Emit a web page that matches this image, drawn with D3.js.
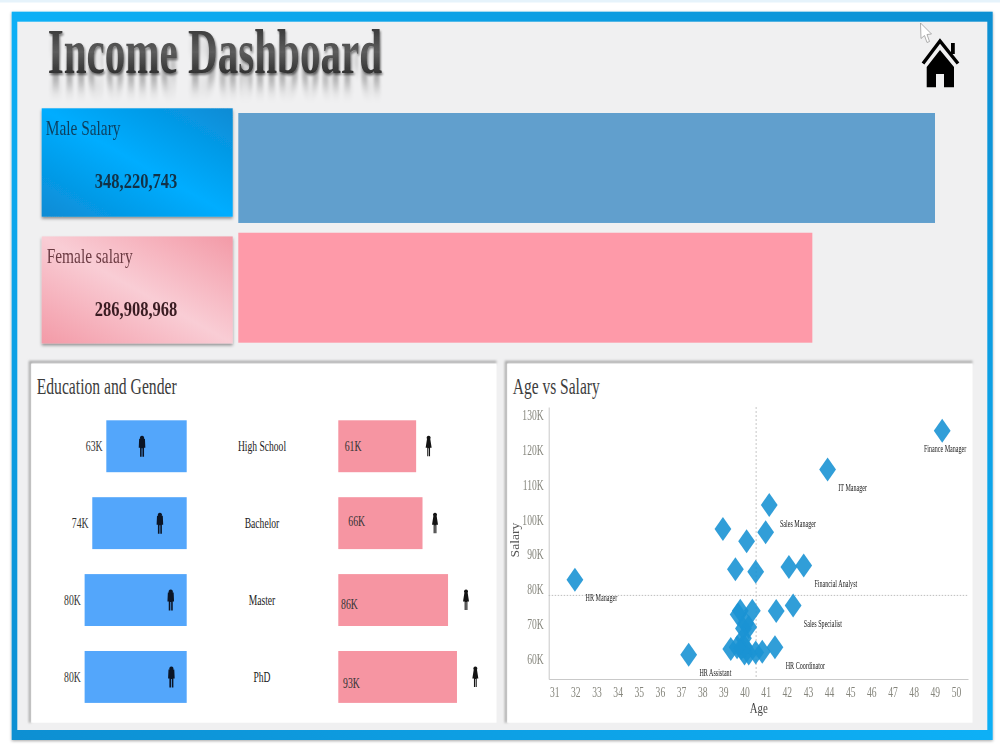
<!DOCTYPE html>
<html>
<head>
<meta charset="utf-8">
<title>Income Dashboard</title>
<script src="https://cdn.jsdelivr.net/npm/d3@7"></script>
<style>
	html, body { margin: 0; padding: 0; background: #fff; }
	svg { display: block; filter: blur(0.35px); }
	text { font-family: "Liberation Serif", serif; }
</style>
</head>
<body>
<div id="chart"></div>
<script>
// totals
const genderNames = ["Male", "Female"],
	genderTotals = [348220743, 286908968],
	cardTitles = ["Male Salary", "Female salary"];

// education and gender (K)
const educationLevels = ["High School", "Bachelor", "Master", "PhD"],
	maleSalaries = [63, 74, 80, 80],
	femaleSalaries = [61, 66, 86, 93],
	// the person icons sit on the same axis as the bars
	maleIconValues = [35, 21, 12.5, 12],
	femaleIconValues = [70.8, 75.8, 100.1, 107.4];

// age vs salary
const pointAges = [49.35, 43.93, 41.17, 41, 38.98, 40.1, 39.57, 40.53, 42.1, 42.8, 31.98, 42.3, 41.5, 40.37, 39.8, 39.7,
		40.2, 39.95, 40.05, 39.95, 39.35, 37.36, 41.44, 40.84, 40.53, 40.2, 40, 39.85, 40, 39.65],
	pointSalaries = [125.5, 114.3, 104.1, 96.3, 97.2, 93.7, 85.6, 84.9, 86.3, 86.7, 82.6, 75.2, 73.6, 73.7, 73.7, 72.6,
		69, 68.6, 70, 65.8, 62.7, 61, 63.2, 61.9, 61.7, 61.4, 61.4, 62.9, 63.4, 63.2],
	pointLabels = ["Finance Manager", "IT Manager", "Sales Manager", "", "", "", "", "", "", "Financial Analyst", "HR Manager",
		"Sales Specialist", "", "", "", "", "", "", "", "", "", "HR Assistant", "HR Coordinator", "", "", "", "", "", "", ""],
	ageTicks = [31, 32, 33, 34, 35, 36, 37, 38, 39, 40, 41, 42, 43, 44, 45, 46, 47, 48, 49, 50],
	salaryTicks = [60, 70, 80, 90, 100, 110, 120, 130],
	meanAge = 40.55,
	meanSalary = 78.1;

const svg = d3.select("#chart").append("svg")
	.attr("width", 1000)
	.attr("height", 750);
const defs = svg.append("defs");

// the original is a stretched screenshot, so the text is narrow and tall
function squeeze(sel, factor) {
	sel.each(function () {
		this.setAttribute("textLength", this.getComputedTextLength() * factor);
		this.setAttribute("lengthAdjust", "spacingAndGlyphs");
	});
	return sel;
}

function addText(parent, x, y, str, size, factor, color, weight, anchor) {
	const t = parent.append("text")
		.attr("x", x)
		.attr("y", y)
		.attr("font-size", size)
		.attr("fill", color)
		.attr("font-weight", weight || "normal")
		.attr("text-anchor", anchor || "start")
		.text(str);
	return squeeze(t, factor);
}

function diagonalGradient(id, edge, middle) {
	const g = defs.append("linearGradient")
		.attr("id", id)
		.attr("x1", 0).attr("y1", 1).attr("x2", 1).attr("y2", 0);
	g.append("stop").attr("offset", "0%").attr("stop-color", edge);
	g.append("stop").attr("offset", "50%").attr("stop-color", middle);
	g.append("stop").attr("offset", "100%").attr("stop-color", edge);
}

function shadowFilter(id, dx, dy, blur, opacity) {
	defs.append("filter")
		.attr("id", id)
		.attr("x", "-10%").attr("y", "-10%").attr("width", "120%").attr("height", "125%")
		.append("feDropShadow")
		.attr("dx", dx).attr("dy", dy)
		.attr("stdDeviation", blur)
		.attr("flood-color", "#000")
		.attr("flood-opacity", opacity);
}

diagonalGradient("frameFill", "#0a8fd2", "#0fb0f6");
diagonalGradient("maleCard", "#0a8bd4", "#00adff");
diagonalGradient("femaleCard", "#f39aa7", "#f9cdd5");
shadowFilter("soft", 0, 2, 1.5, 0.4);
shadowFilter("frameShadow", 0, 1, 1.5, 0.35);
defs.append("filter").attr("id", "panelEdge")
	.append("feGaussianBlur").attr("stdDeviation", 0.8);

function drawFrame() {
	svg.append("rect")
		.attr("width", 1000).attr("height", 2.5)
		.attr("fill", "#e6f3fb");
	svg.append("rect")
		.attr("x", 11.7).attr("y", 11.7)
		.attr("width", 981).attr("height", 728.3)
		.attr("fill", "url(#frameFill)")
		.attr("filter", "url(#frameShadow)");
	svg.append("rect")
		.attr("x", 17.3).attr("y", 21.7)
		.attr("width", 970).attr("height", 708.3)
		.attr("fill", "#f0f0f1");
}

function drawTitle() {
	const grad = defs.append("linearGradient")
		.attr("id", "titleFill")
		.attr("x1", 0).attr("y1", 0).attr("x2", 0).attr("y2", 1);
	grad.append("stop").attr("offset", "15%").attr("stop-color", "#3a3a3a");
	grad.append("stop").attr("offset", "50%").attr("stop-color", "#5c5c5c");
	grad.append("stop").attr("offset", "85%").attr("stop-color", "#2c2c2c");

	// long vertical blur stands in for the reflection under the letters
	const f = defs.append("filter")
		.attr("id", "titleShadow")
		.attr("x", "-5%").attr("y", "-20%").attr("width", "110%").attr("height", "200%");
	f.append("feOffset").attr("in", "SourceAlpha").attr("dy", 14).attr("result", "o1");
	f.append("feGaussianBlur").attr("in", "o1").attr("stdDeviation", "1 8").attr("result", "b1");
	f.append("feComponentTransfer").attr("in", "b1").attr("result", "r1")
		.append("feFuncA").attr("type", "linear").attr("slope", 0.28);
	f.append("feOffset").attr("in", "SourceAlpha").attr("dx", 0.5).attr("dy", 1.5).attr("result", "o2");
	f.append("feGaussianBlur").attr("in", "o2").attr("stdDeviation", 1).attr("result", "b2");
	f.append("feComponentTransfer").attr("in", "b2").attr("result", "s2")
		.append("feFuncA").attr("type", "linear").attr("slope", 0.5);
	const m = f.append("feMerge");
	m.append("feMergeNode").attr("in", "r1");
	m.append("feMergeNode").attr("in", "s2");
	m.append("feMergeNode").attr("in", "SourceGraphic");

	addText(svg, 47.7, 73, "Income Dashboard", 63, 0.652, "url(#titleFill)", "bold")
		.attr("filter", "url(#titleShadow)");
}

function drawHome() {
	const g = svg.append("g");
	// chimney, roof chevron, walls with a door cut out
	g.append("path").attr("fill", "#000").attr("d", "M951,43h3.8v11h-3.8z");
	g.append("path").attr("fill", "none").attr("stroke", "#000").attr("stroke-width", 3.4)
		.attr("stroke-linejoin", "miter")
		.attr("d", "M923,63.5L940,41L958,63.5");
	g.append("path").attr("fill", "#000").attr("fill-rule", "evenodd")
		.attr("d", "M940,50L954,67V87.3H926.7V67Z M936,87.3H944V74H936Z");
	svg.append("path")
		.attr("fill", "#fff").attr("stroke", "#9a9a9a").attr("stroke-width", 0.8)
		.attr("d", "M920.5,23L921,38.5L924.5,35.5L927,42.5L929.5,41.5L927,34.5L931.5,34Z");
}

function drawTotals() {
	const x = d3.scaleLinear().domain([0, genderTotals[0]]).range([0, 696.7]);
	const y = d3.scaleBand().domain(genderNames).range([113, 342.7]).paddingInner(0.0815);
	const formatTotal = d3.format(",");
	const barColors = ["#619fcd", "#fe9aa9"];
	const cardFills = ["url(#maleCard)", "url(#femaleCard)"];
	const titleColors = ["#0d3f5e", "#6b3a42"];
	const numberColors = ["#123247", "#3a1c22"];

	svg.selectAll(".total")
		.data(genderNames)
		.join("rect")
		.attr("class", "total")
		.attr("x", 238.3)
		.attr("y", d => y(d))
		.attr("width", (d, i) => x(genderTotals[i]))
		.attr("height", y.bandwidth())
		.attr("fill", (d, i) => barColors[i]);

	genderNames.forEach((d, i) => {
		const top = y(d) - (i ? -3.7 : 4.7);
		svg.append("rect")
			.attr("x", 41.7).attr("y", top)
			.attr("width", 191).attr("height", i ? 107 : 108.4)
			.attr("fill", cardFills[i])
			.attr("filter", "url(#soft)");
		addText(svg, i ? 46.7 : 45.7, top + 27, cardTitles[i], 22, 0.7, titleColors[i]);
		addText(svg, 136, top + 80, formatTotal(genderTotals[i]), 22, 0.75, numberColors[i], "bold", "middle");
	});
}

function drawPanel(x, title, titleLength) {
	svg.append("path")
		.attr("d", `M${x},722.7V362H${x + 466.5}`)
		.attr("fill", "none")
		.attr("stroke", "#a8a8a8")
		.attr("stroke-width", 2.4)
		.attr("filter", "url(#panelEdge)");
	svg.append("rect")
		.attr("x", x + 1.2).attr("y", 363.6)
		.attr("width", 465.3).attr("height", 359.1)
		.attr("fill", "#fff");
	const t = addText(svg, x + 6.7, 394, title, 23, 1, "#3d3d3d");
	t.attr("textLength", titleLength);
}

const personMale = "M0,-10.5a2.1,2.1 0 1,1 -0.01,0z M-2.9,-7.5H2.9L3.3,1.5H2V10.5H0.4V2H-0.4V10.5H-2V1.5H-3.3Z";
const personFemale = "M0,-10.5a2,2 0 1,1 -0.01,0z M-1.6,-7.5H1.6L3,1.5H1.4V10H0.3V2H-0.3V10H-1.4V1.5H-3Z";

function drawEducation() {
	const panel = svg.append("g");
	const x = d3.scaleLinear().domain([0, 100]).range([0, 127.6]);
	const y = d3.scaleBand().domain(educationLevels).range([420.3, 702.9]).paddingInner(0.325);
	const maleBase = 186.7, femaleBase = 338.3;
	// hand placed in the original, these labels do not line up with the bars
	const femaleLabelX = [344.7, 348.3, 341, 343];
	const femaleLabelNudge = [0, -2, 4, 6];

	panel.selectAll(".male")
		.data(maleSalaries)
		.join("rect")
		.attr("class", "male")
		.attr("x", d => maleBase - x(d))
		.attr("y", (d, i) => y(educationLevels[i]))
		.attr("width", d => x(d))
		.attr("height", y.bandwidth())
		.attr("fill", "#53a6fb");

	panel.selectAll(".female")
		.data(femaleSalaries)
		.join("rect")
		.attr("class", "female")
		.attr("x", femaleBase)
		.attr("y", (d, i) => y(educationLevels[i]))
		.attr("width", d => x(d))
		.attr("height", y.bandwidth())
		.attr("fill", "#f695a2");

	panel.selectAll(".maleIcon")
		.data(maleIconValues)
		.join("path")
		.attr("class", "maleIcon")
		.attr("d", personMale)
		.attr("fill", "#0b1526")
		.attr("transform", (d, i) => `translate(${maleBase - x(d)},${y(educationLevels[i]) + y.bandwidth() / 2})`);

	panel.selectAll(".femaleIcon")
		.data(femaleIconValues)
		.join("path")
		.attr("class", "femaleIcon")
		.attr("d", personFemale)
		.attr("fill", "#141414")
		.attr("transform", (d, i) => `translate(${femaleBase + x(d)},${y(educationLevels[i]) + y.bandwidth() / 2})`);

	educationLevels.forEach((level, i) => {
		const mid = y(level) + y.bandwidth() / 2;
		addText(panel, 262, mid + 5, level, 14.5, 0.66, "#222", "normal", "middle");
		addText(panel, maleBase - x(maleSalaries[i]) - 3.7, mid + 5, maleSalaries[i] + "K", 15, 0.65, "#333", "normal", "end");
		addText(panel, femaleLabelX[i], mid + 5 + femaleLabelNudge[i], femaleSalaries[i] + "K", 15, 0.65, "#333");
	});
}

function drawScatter() {
	const g = svg.append("g");
	const x = d3.scaleLinear().domain([30.74, 50.57]).range([548.7, 968]);
	const y = d3.scaleLinear().domain([54.05, 132.3]).range([679, 407]);
	const diamond = "M0,-12L8.4,0L0,12L-8.4,0Z";

	const xAxisFunc = d3.axisBottom(x).tickValues(ageTicks).tickSize(0).tickPadding(7).tickFormat(d => d);
	const yAxisFunc = d3.axisLeft(y).tickValues(salaryTicks).tickSize(0).tickPadding(5).tickFormat(d => d + "K");

	const X = g.append("g").attr("transform", "translate(0,679)").call(xAxisFunc);
	const Y = g.append("g").attr("transform", "translate(548.7,0)").call(yAxisFunc);
	X.select(".domain").attr("stroke", "#c9c9c9").attr("stroke-width", 1);
	Y.select(".domain").attr("stroke", "#c9c9c9").attr("stroke-width", 1);
	[X, Y].forEach(axis => {
		const t = axis.selectAll("text")
			.attr("font-family", "Liberation Serif")
			.attr("font-size", 15)
			.attr("fill", "#85857c");
		squeeze(t, 0.64);
	});

	g.append("line")
		.attr("x1", x(meanAge)).attr("x2", x(meanAge))
		.attr("y1", 407).attr("y2", 679)
		.attr("stroke", "#c6c6c6").attr("stroke-dasharray", "2,2");
	g.append("line")
		.attr("x1", 548.7).attr("x2", 968)
		.attr("y1", y(meanSalary)).attr("y2", y(meanSalary))
		.attr("stroke", "#bdbdbd").attr("stroke-dasharray", "1.5,1.5");

	g.selectAll(".point")
		.data(pointAges)
		.join("path")
		.attr("class", "point")
		.attr("d", diamond)
		.attr("fill", "#1b94d4")
		.attr("fill-opacity", 0.9)
		.attr("transform", (d, i) => `translate(${x(d)},${y(pointSalaries[i])})`);

	pointLabels.forEach((name, i) => {
		if (!name) return;
		const dx = name === "Finance Manager" ? -18.3 : 10.7;
		addText(g, x(pointAges[i]) + dx, y(pointSalaries[i]) + 21.5, name, 10.5, 0.58, "#1c1c1c");
	});

	addText(g, 758.7, 713, "Age", 15, 0.72, "#444", "normal", "middle");
	const s = addText(g, 0, 0, "Salary", 13, 1.05, "#555", "normal", "middle");
	s.attr("transform", "translate(518.5,540) rotate(-90)");
}

drawFrame();
drawTitle();
drawHome();
drawTotals();
drawPanel(30, "Education and Gender", 140);
drawEducation();
drawPanel(506, "Age vs Salary", 87);
drawScatter();
</script>
</body>
</html>
